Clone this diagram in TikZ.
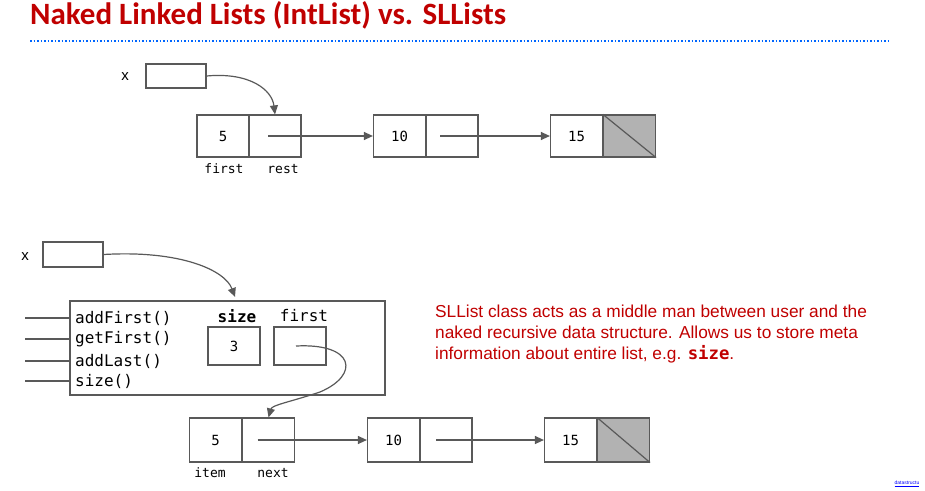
\documentclass[tikz,border=0pt]{standalone}
\usepackage{fontspec}
\setmainfont{Liberation Sans}
\newfontfamily\ttl{Carlito}
\newfontfamily\mono{DejaVu Sans Mono}
\usetikzlibrary{arrows.meta}
\definecolor{tred}{HTML}{C00000}
\definecolor{lgray}{HTML}{595959}
\begin{document}
\begin{tikzpicture}[x=1pt,y=-1pt,
 cell/.style={draw=lgray,line width=1.2pt,minimum width=52pt,minimum height=42pt,inner sep=0pt,font=\mono\fontsize{14}{14}\selectfont},
 nil/.style={cell,fill=black!30},
 ptr/.style={draw=lgray,line width=1.2pt,-{Triangle[length=9pt,width=8pt]}},
 lbl/.style={font=\mono\fontsize{13}{13}\selectfont},
 meth/.style={font=\mono\fontsize{16}{16}\selectfont,anchor=west,inner sep=0pt}]
\useasboundingbox (0,0) rectangle (925,490);
\node[font=\ttl\bfseries\fontsize{31}{31}\selectfont,text=tred,anchor=west,inner sep=0pt] (title) at (30,15) {Naked Linked Lists (IntList) vs. SLLists};
\draw[blue!60!cyan,dotted,line width=1.5pt] (30,41) -- (890,41);
% top
\node[font=\fontsize{15}{15}\selectfont] (x1) at (125,77) {x};
\node[cell,minimum width=60pt,minimum height=24pt] (xb1) at (176,76) {};
\node[cell] (a1) at (223,136) {5};
\node[cell] (a2) at (275,136) {};
\node[cell] (b1) at (399.5,136) {10};
\node[cell] (b2) at (452,136) {};
\node[cell] (c1) at (576.5,136) {15};
\node[nil] (c2) at (629.5,136) {};
\draw[lgray,line width=1.2pt] (c2.north west) -- (c2.south east);
\draw[ptr] (xb1.east) .. controls (250,72) and (272,90) .. (a2.north);
\draw[ptr] (a2.center) ++(-7,0) -- (b1.west);
\draw[ptr] (b2.center) ++(-12,0) -- (c1.west);
\node[lbl] (f1) at (224,169) {first};
\node[lbl] (r1) at (283,169) {rest};
% bottom
\node[font=\fontsize{15}{15}\selectfont] (x2) at (25,257) {x};
\node[cell,minimum width=60pt,minimum height=25pt] (xb2) at (73,254.5) {};
\node[draw=lgray,line width=1.2pt,minimum width=315pt,minimum height=94pt,inner sep=0pt] (sl) at (227.5,348) {};
\foreach \y/\t [count=\i] in {318/addFirst(),339/getFirst(),361/addLast(),381/size()}{
  \coordinate (m\i) at (25,\y);
  \draw[lgray,line width=1.2pt] (m\i) -- (70,\y);
  \node[meth] (mt\i) at (75,\y) {\t};
}
\node[font=\mono\bfseries\fontsize{16}{16}\selectfont] (sz) at (237,316) {size};
\node[font=\mono\fontsize{16}{16}\selectfont] (fs) at (304,316) {first};
\node[cell,minimum height=38pt] (s3) at (234,346) {3};
\node[cell,minimum height=38pt] (fb) at (300,346) {};
\node[cell,minimum height=44pt] (d1) at (215.5,440) {5};
\node[cell,minimum height=44pt] (d2) at (268.5,440) {};
\node[cell,minimum height=44pt] (e1) at (393.5,440) {10};
\node[cell,minimum height=44pt] (e2) at (446,440) {};
\node[cell,minimum height=44pt] (g1) at (570.5,440) {15};
\node[nil,minimum height=44pt] (g2) at (623.5,440) {};
\draw[lgray,line width=1.2pt] (g2.north west) -- (g2.south east);
\draw[ptr] (xb2.east) .. controls (180,250) and (225,270) .. (235,297);
\draw[ptr] (fb.center) ++(-4,0) .. controls (355,343) and (360,375) .. (320,392) .. controls (290,402) and (272,405) .. (d2.north);
\draw[ptr] (d2.center) ++(-11,0) -- (e1.west);
\draw[ptr] (e2.center) ++(-10,0) -- (g1.west);
\node[lbl] (it) at (210,473) {item};
\node[lbl] (nx) at (273,473) {next};
\node[text=tred,font=\fontsize{17.3}{21}\selectfont,align=left,anchor=north west,inner sep=0pt] (note) at (435,305) {SLList class acts as a middle man between user and the\\naked recursive data structure. Allows us to store meta\\information about entire list, e.g. {\mono\bfseries size}.};
\node[text=blue,font=\fontsize{5}{5}\selectfont,inner sep=0pt] (ds) at (907,484) {\underline{datastructu}};
\end{tikzpicture}
\end{document}
